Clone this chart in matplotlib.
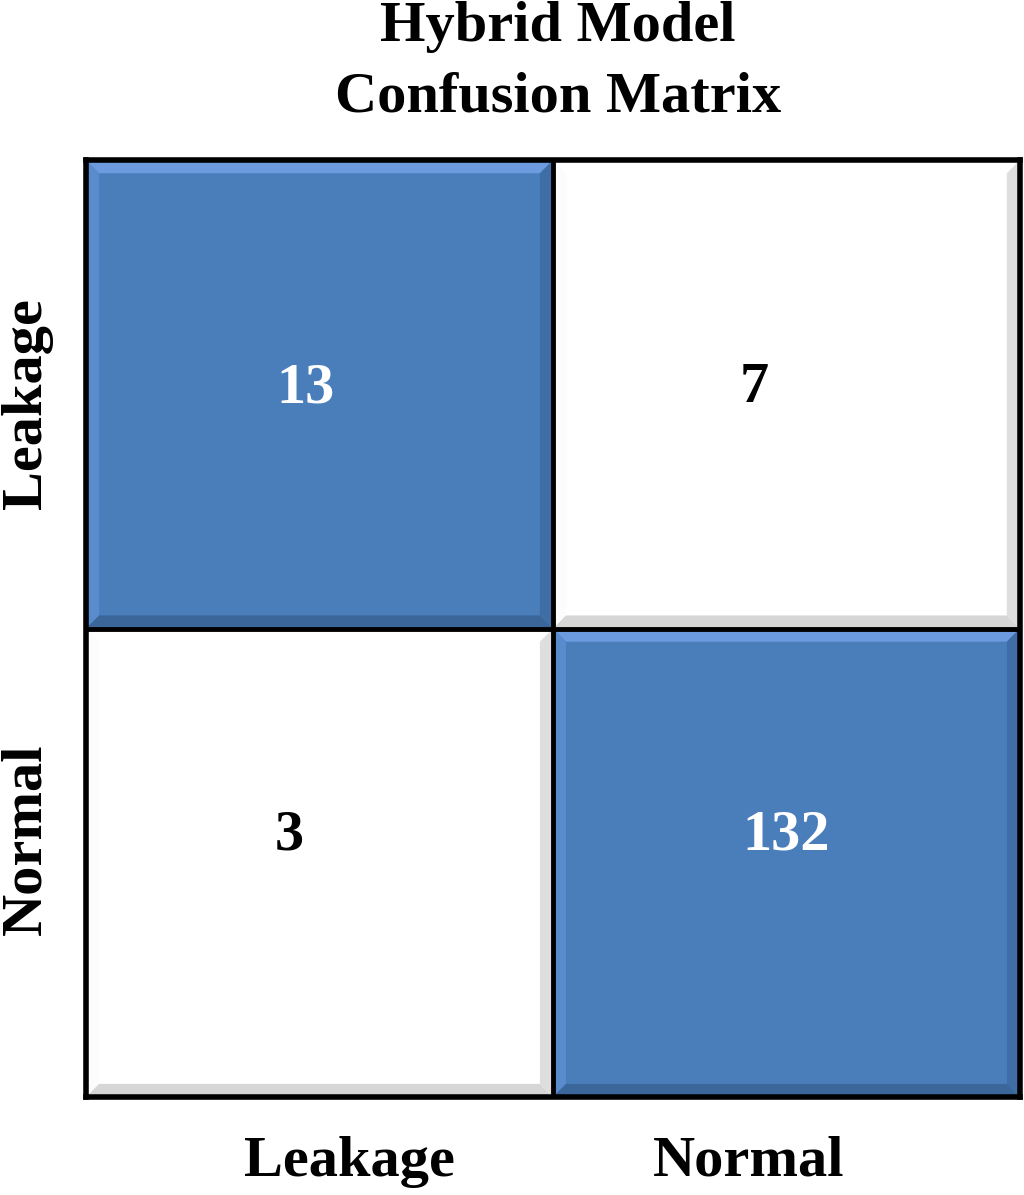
import matplotlib
matplotlib.use("Agg")
import matplotlib.pyplot as plt
from matplotlib.patches import Polygon, Rectangle
import numpy as np

# Confusion matrix of the hybrid model (rows: actual, columns: predicted)
class_labels = ["Leakage", "Normal"]
matrix = [[13, 7],
          [3, 132]]
title_lines = ["Hybrid Model", "Confusion Matrix"]

plt.rcParams["font.family"] = ["Liberation Serif", "DejaVu Serif"]

BLUE = "#4a7ebb"
FS = 42
fig = plt.figure(figsize=(10.24, 11.95), dpi=100)
ax = fig.add_axes([0.084, 0.082, 0.912, 0.784])
ax.set_xlim(0, 2)
ax.set_ylim(2, 0)

bw_x, bw_y = 0.028, 0.028  # bevel width in data units


def bevel_cell(ax, x0, y0, filled):
    x1, y1 = x0 + 1, y0 + 1
    base = BLUE if filled else "white"
    ax.add_patch(Rectangle((x0, y0), 1, 1, facecolor=base, edgecolor="none", zorder=1))
    if filled:
        top, left, bottom, right = "#6c9be0", "#5a8bcc", "#3a6699", "#3f6ea6"
    else:
        top, left, bottom, right = "#ffffff", "#fcfcfc", "#d6d6d6", "#dedede"
    # top edge
    ax.add_patch(Polygon([(x0, y0), (x1, y0), (x1 - bw_x, y0 + bw_y), (x0 + bw_x, y0 + bw_y)],
                         closed=True, facecolor=top, edgecolor="none", zorder=2))
    # left edge
    ax.add_patch(Polygon([(x0, y0), (x0 + bw_x, y0 + bw_y), (x0 + bw_x, y1 - bw_y), (x0, y1)],
                         closed=True, facecolor=left, edgecolor="none", zorder=2))
    # bottom edge
    ax.add_patch(Polygon([(x0, y1), (x0 + bw_x, y1 - bw_y), (x1 - bw_x, y1 - bw_y), (x1, y1)],
                         closed=True, facecolor=bottom, edgecolor="none", zorder=2))
    # right edge
    ax.add_patch(Polygon([(x1, y0), (x1, y1), (x1 - bw_x, y1 - bw_y), (x1 - bw_x, y0 + bw_y)],
                         closed=True, facecolor=right, edgecolor="none", zorder=2))


vals = np.array(matrix)
offsets = {(0, 0): (-0.03, -0.013), (0, 1): (-0.07, -0.013),
           (1, 0): (-0.065, -0.058), (1, 1): (0.0, -0.058)}
for i in range(2):
    for j in range(2):
        diag = i == j
        bevel_cell(ax, j, i, diag)
        dx, dy = offsets[(i, j)]
        ax.text(j + 0.5 + dx, i + 0.5 + dy, str(vals[i, j]),
                ha="center", va="center", fontsize=FS, fontweight="bold",
                color="white" if diag else "black", zorder=5)

# grid lines
ax.plot([1, 1], [0, 2], color="black", lw=3.5, zorder=4, solid_capstyle="butt")
ax.plot([0, 2], [1, 1], color="black", lw=3.5, zorder=4, solid_capstyle="butt")
for s in ax.spines.values():
    s.set_linewidth(4)
    s.set_color("black")
    s.set_zorder(6)

ax.set_xticks([0.565, 1.42])
ax.set_xticklabels(class_labels, fontsize=FS, fontweight="bold")
ax.set_yticks([0.52, 1.45])
ax.set_yticklabels(class_labels, fontsize=FS, fontweight="bold", rotation=90, va="center")
ax.tick_params(length=0)
ax.tick_params(axis="y", pad=24)
ax.tick_params(axis="x", pad=28)

fig.text(0.545, 0.977, title_lines[0], ha="center", va="center", fontsize=FS, fontweight="bold")
fig.text(0.545, 0.918, title_lines[1], ha="center", va="center", fontsize=FS, fontweight="bold")

fig.savefig("out.png", dpi=100)
